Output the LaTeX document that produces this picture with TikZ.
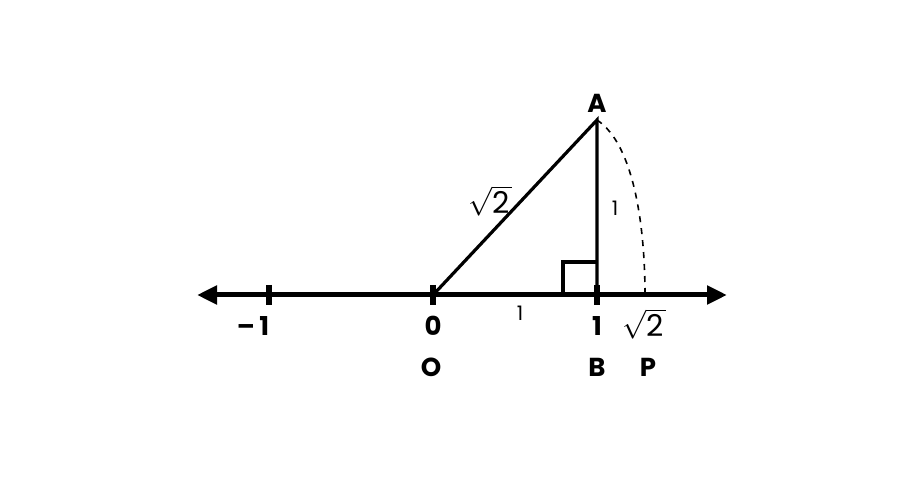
\documentclass[tikz,border=0pt]{standalone}
\usepackage{fontspec}
\setsansfont{Poppins}
\usepackage{tikz}
\usetikzlibrary{calc}
\usetikzlibrary{arrows.meta}
\tikzstyle{axis}=[line width=2.5pt,{Triangle[length=10pt,width=9pt]}-{Triangle[length=10pt,width=9pt]}]
\tikzstyle{tick}=[line width=2.6pt]
\tikzstyle{side}=[line width=1.6pt]
\tikzstyle{num}=[font=\sffamily\bfseries\fontsize{13}{15}\selectfont,inner sep=0pt]
\tikzstyle{len}=[font=\sffamily\fontsize{10}{12}\selectfont,inner sep=0pt]
\tikzstyle{root}=[font=\sffamily\fontsize{15}{17}\selectfont,inner sep=0pt]
\newcommand{\rtwo}{\ensuremath{\sqrt{\hbox{2\kern1pt}}}}

\begin{document}
\begin{tikzpicture}[x=0.5pt,y=-0.5pt]
	\useasboundingbox (0,0) rectangle (917,502);
	\coordinate (L) at (197,295);
	\coordinate (R) at (727,295);
	\coordinate (M) at (269,295);
	\coordinate (O) at (433,295);
	\coordinate (B) at (597,295);
	\coordinate (P) at (645,295);
	\coordinate (A) at (597,120);
	
	\draw[axis] (L) -- (R);
	\foreach \t in {M,O,B}
		\draw[tick] ($(\t)+(0,-10)$) -- ($(\t)+(0,10)$);
	
	\draw[side] (O) -- (A) -- (B);
	\draw[side] ($(B)+(-34,0)$) |- ($(B)+(0,-33)$);
	\draw[dashed,line width=0.8pt] (A) .. controls (635,145) and (645,230) .. (P);
	
	\node[num] (mone) at (253,326) {--\,1};
	\node[num] (zero) at (433,326) {0};
	\node[num] (one) at (597,326) {1};
	\node[root] (sqP) at (644,324) {\rtwo};
	\node[num] (lO) at (431,367) {O};
	\node[num] (lB) at (597,367) {B};
	\node[num] (lP) at (648,367) {P};
	\node[num] (lA) at (597,103) {A};
	
	\node[root] (sqOA) at (490,201) {\rtwo};
	\node[len] (sAB) at (615,208) {1};
	\node[len] (sOB) at (520,313) {1};
\end{tikzpicture}
\end{document}
